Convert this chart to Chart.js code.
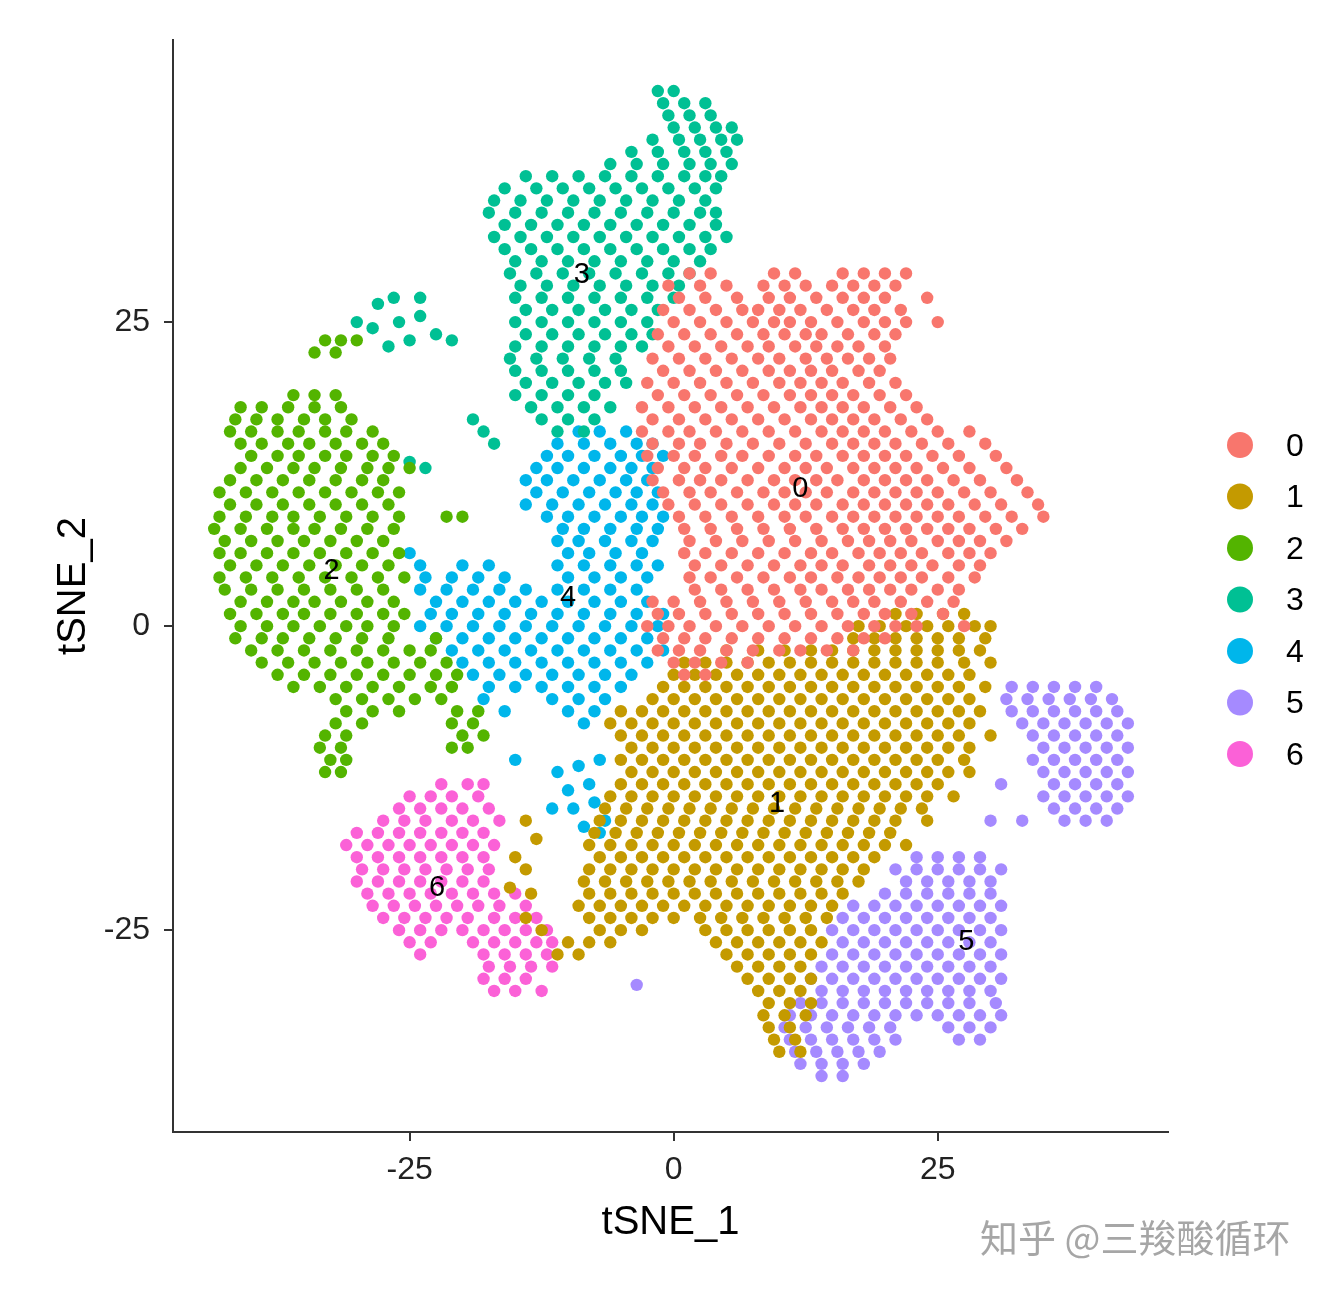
<!DOCTYPE html>
<html><head><meta charset="utf-8">
<script src="https://cdn.jsdelivr.net/npm/chart.js@4"></script>
<style>html,body{margin:0;padding:0;background:#fff;}canvas{display:block;}</style>
</head><body>
<canvas id="c" width="1344" height="1291"></canvas>
<script>
// Each row: [y, x1, x2, ...]
const cluster0 = [
[29,1.5,3.5,9.5,11.5,16,18,20,22],[28,-0.5,2.5,5,8.5,10.5,12.5,15,17,19,21],[27,0.5,3,6,9,11,13.5,16,18,20,24],
[26,-1,1.5,4,6.5,8,10,12,14.5,17,19,21.5],[25,0,2.5,5,7.5,9.5,11,13,15.5,18,20,22,25],[24,-1.5,1,3.5,6,8.5,10.5,12.5,14,16.5,19,21],
[23,-0.5,2,4.5,7,9,11.5,13.5,15.5,17.5,20],[22,-2,0.5,3,5.5,8,10,12.5,14.5,16.5,18.5,20.5],[21,-1,1.5,4,6.5,9,11,13,15,17.5,19.5],
[20,-2.5,0,2.5,5,7.5,10,12,14,16,18.5,21],[19,-1.5,1,3.5,6,8.5,11,13,15,17,19.5,22],[18,-3,-0.5,2,4.5,7,9.5,12,14,16,18,20.5,23],
[17,-2,0.5,3,5.5,8,10.5,13,15,17,19,21.5,24],[16,-3,-0.5,1.5,4,6.5,9,11.5,14,16,18,20,22.5,25,28],
[15,-2,0.5,2.5,5,7.5,10,12.5,15,17,19,21,23.5,26,29.5],[14,-2.5,0,2,4.5,6.5,9,11.5,13.5,16,18,20,22,24.5,27,30.5],
[13,-1.5,1,3,5.5,8,10.5,12.5,14.5,17,19,21,23,25.5,28,31.5],[12,-2,0.5,2.5,4.5,7,9.5,11.5,13.5,15.5,18,20,22,24,26.5,29,32.5],
[11,-1,1.5,3.5,6,8.5,10.5,12.5,14.5,17,19,21,23,25,27.5,30,33.5],[10,-0.5,2,4.5,7,9.5,11.5,13.5,16,18,20,22,24,26,28.5,31,34.5],
[9,0.5,3,5.5,8,10.5,12.5,15,17,19,21,23,25,27,29.5,32,35],[8,1,3.5,6,8.5,11,13.5,16,18,20,22,24,26,28,30.5,33],
[7,1.5,4,6.5,9,11.5,14,16.5,18.5,20.5,22.5,25,27,29,31.5],[6,1,3,5.5,8,10.5,13,15,17.5,19.5,21.5,23.5,26,28,30],
[5,2,4.5,7,9.5,12,14,16,18.5,20.5,22.5,24.5,27,29],[4,1.5,3.5,6,8.5,11,13,15.5,17.5,19.5,21.5,23.5,26,28.5],
[3,2,4.5,7,9.5,12,14,16.5,18.5,20.5,22.5,25,27],[2,-2,0,2.5,5,7.5,10,12.5,15,17,19,21.5,24,26.5],
[1,-1.5,0.5,3,5.5,8,10.5,13,15.5,18,20,22.5,25.5],[0,-2.5,-0.5,1.5,4,6.5,9,11.5,14,16.5,19,21,23,27.5],
[-1,-1,1,3,5.5,8,10.5,13,15.5,18,20],[-2,-1.5,0.5,2.5,5,7.5,10,12,14.5,17],[-3,0,2,4.5,7],[-4,1,3]
];
const cluster1 = [
[1,21,23,25.5,27.5],[0,17.5,19.5,22,24,26,28.5,30],[-1,17,19,21,23,25,27,29.5],
[-2,5,8,10.5,13,15,17,19,21,23,25,27,29],[-3,1,3,5,7,9,11,13,15,17,19,21,23,25,27.5,30],
[-4,0,2,4,6,8,10,12,14,16,18,20,22,24,26,28],[-5,-1,1,3,5,7,9,11,13,15,17,19,21,23,25,27,29.5],
[-6,-2,0,2,4,6,8,10,12,14,16,18,20,22,24,26,28],[-7,-5,-3,-1,1,3,5,7,9,11,13,15,17,19,21,23,25,27,29],
[-8,-6,-4,-2,0,2,4,6,8,10,12,14,16,18,20,22,24,26,28],[-9,-5,-3,-1,1,3,5,7,9,11,13,15,17,19,21,23,25,27,30],
[-10,-4,-2,0,2,4,6,8,10,12,14,16,18,20,22,24,26,28],[-11,-5,-3,-1,1,3,5,7,9,11,13,15,17,19,21,23,25,27.5],
[-12,-4,-2,0,2,4,6,8,10,12,14,16,18,20,22,24,26,28],[-13,-5,-3,-1,1,3,5,7,9,11,13,15,17,19,21,23,25],
[-14,-6,-4,-2,0,2,4,6,8,10,12,14,16,18,20,22,24,26.5],[-15,-6.5,-4.5,-2.5,-0.5,1.5,3.5,5.5,7.5,9.5,11.5,13.5,15.5,17.5,19.5,21.5,23.5],
[-16,-7,-5,-3,-1,1,3,5,7,9,11,13,15,17,19,21,24],[-17,-7.5,-5.5,-3.5,-1.5,0.5,2.5,4.5,6.5,8.5,10.5,12.5,14.5,16.5,18.5,20.5],
[-18,-8,-6,-4,-2,0,2,4,6,8,10,12,14,16,18,20,22],[-19,-7,-5,-3,-1,1,3,5,7,9,11,13,15,17,19],
[-20,-8,-6,-4,-2,0,2,4,6,8,10,12,14,16,18],[-21,-8.5,-6.5,-4.5,-2.5,-0.5,1.5,3.5,5.5,7.5,9.5,11.5,13.5,15.5,17.5],
[-22,-8,-6,-4,-2,0,2,4,6,8,10,12,14,16],[-23,-9,-7,-5,-3,-1,1,3,5,7,9,11,13,15],
[-24,-8,-6,-4,-2,0,2.5,4.5,6.5,8.5,10.5,12.5,14.5],[-25,-7,-5,-3,3,5,7,9,11,13],[-26,-10,-8,-6,4,6,8,10,12,14],
[-27,-11,-9,5,7,9,11,13],[-28,6,8,10,12],[-29,7,9,11,13],[-30,8,10,12],[-31,9,11,13],[-32,8.5,10.5,12.5],
[-33,9,11],[-34,9.5,11.5],[-35,10,12],
[-16,-14],[-17.5,-13],[-19,-15],[-20,-14],[-21.5,-15.5],[-22,-13.5],[-24,-14],[-25,-12.5]
];
const cluster2 = [
[23.5,-33,-31.5,-30],[22.5,-34,-32],[19,-36,-34,-32],[18,-41,-39,-36.5,-34,-31.5],[17,-41.5,-39.5,-37.5,-35,-33,-30.5],
[16,-42,-40,-37.5,-35.5,-33,-31,-28.5],[15,-41,-39,-36.5,-34.5,-32,-29.5,-27.5],[14,-40,-37.5,-35.5,-33,-31,-28.5,-26.5],
[13,-41,-38.5,-36,-34,-31.5,-29,-27,-25],[12,-42,-39.5,-37,-34.5,-32,-29.5,-27.5],[11,-43,-40.5,-38,-35.5,-33,-30.5,-28,-26],
[10,-42,-39.5,-37,-34.5,-32,-29.5,-27],[9,-43,-40.5,-38,-36,-33.5,-31,-28.5,-26,-21.5,-20],[8,-43.5,-41,-38.5,-36,-34,-31.5,-29,-26.5],
[7,-42.5,-40,-37.5,-35,-32.5,-30,-27.5],[6,-43,-41,-38.5,-36,-33.5,-31,-28.5,-26],[5,-42,-39.5,-37,-34.5,-32,-29.5,-27],
[4,-43,-40.5,-38,-35.5,-33,-30.5,-28,-25.5],[3,-42.5,-40,-37.5,-35,-32.5,-30,-27.5],[2,-41,-38.5,-36,-34,-31.5,-29,-26.5],
[1,-42,-39.5,-37,-35,-32.5,-30,-27.5,-25.5],[0,-41,-38.5,-36,-33.5,-31,-29,-26.5],[-1,-41.5,-39,-37,-34.5,-32,-29.5,-27,-22.5],
[-2,-40,-37.5,-35,-32.5,-30,-27.5,-25,-23],[-3,-39,-36.5,-34,-31.5,-29,-26.5,-24,-21.5],[-4,-37.5,-35,-32.5,-30,-27.5,-25,-22.5,-20.5],
[-5,-36,-33.5,-31,-28.5,-26,-23,-21],[-6,-32,-29.5,-27,-24.5,-22],[-7,-31,-28.5,-26,-20.5,-18.5],[-8,-32,-29.5,-21,-19],
[-9,-33,-31,-20,-18],[-10,-33.5,-31.5,-21,-19.5],[-11,-32.5,-31],[-12,-33,-31.5]
];
const cluster3 = [
[44,-1.5,0],[43,-1,1,3],[42,-0.5,1.5,3.5],[41,0,2,4,5.5],[40,-2,0.5,2.5,4.5,6],[39,-4,-1.5,1,3,5],[38,-6,-3.5,-1,1.5,3.5,5.5],
[37,-14,-11.5,-9,-6.5,-4,-1.5,1,3,4.5],[36,-16,-13,-10.5,-8,-5.5,-3,-0.5,2,4],[35,-17,-14.5,-12,-9.5,-7,-4.5,-2,0.5,3],
[34,-17.5,-15,-12.5,-10,-7.5,-5,-2.5,0,2.5,4],[33,-16,-13.5,-11,-8.5,-6,-3.5,-1,1.5,4],[32,-17,-14.5,-12,-9.5,-7,-4.5,-2,0.5,3,5],
[31,-16,-13.5,-11,-8.5,-6,-3.5,-1,1.5,3.5],[30,-15,-12.5,-10,-7.5,-5,-2.5,0,2.5],[29,-15.5,-13,-10.5,-8,-5.5,-3,-0.5,1.5],
[28,-14.5,-12,-9.5,-7,-4.5,-2,0.5],[27,-15,-12.5,-10,-7.5,-5,-2.5,0],[26,-14,-11.5,-9,-6.5,-4,-1.5],[25,-15,-12.5,-10,-7.5,-5,-2.5],
[24,-14,-11.5,-9,-6.5,-4,-2],[23,-15,-12.5,-10,-7.5,-5,-3],[22,-15.5,-13,-10.5,-8,-5.5],[21,-15,-12.5,-10,-7.5,-5],
[20,-14,-11.5,-9,-6.5,-4.5],[19,-15,-12.5,-10,-7.5],[18,-13.5,-11,-8.5,-6],[17,-12.5,-10,-7.5],[16,-11,-8.5],
[27,-26.5,-24],[26.5,-28],[25.5,-24],[25,-30,-26],[24.5,-28.5],[24,-22.5],[23.5,-25,-21],[23,-27],
[17,-19],[16,-18],[15,-17],[13.5,-25],[13,-23.5]
];
const cluster4 = [
[16,-9,-7,-4.5],[15,-11,-8.5,-6,-3.5,-2],[14,-12,-10,-7.5,-5,-3,-1],[13,-13,-11,-8.5,-6,-4,-2],[12,-14,-12,-9.5,-7,-4.5,-2.5],
[11,-13,-10.5,-8,-5.5,-3.5,-1.5],[10,-14,-11.5,-9,-6.5,-4,-2],[9,-12,-10,-7.5,-5,-3,-1],[8,-10.5,-8.5,-6,-3.5,-1.5],
[7,-11,-9,-6.5,-4,-2],[6,-25,-10,-8,-5.5,-3],[5,-24,-20,-17.5,-11,-8.5,-6,-3.5,-1.5],[4,-23.5,-21,-18.5,-16,-10,-7.5,-5,-2.5],
[3,-24,-21.5,-19,-16.5,-14,-11,-8.5,-6,-3.5],[2,-22.5,-20,-17.5,-15,-12.5,-10,-7.5,-5,-2.5],
[1,-23,-21,-18.5,-16,-13.5,-11,-8.5,-6,-3.5,-1],[0,-24,-21.5,-19,-16.5,-14,-11.5,-9,-6.5,-4,-1.5],
[-1,-22.5,-20,-17.5,-15,-12.5,-10,-7.5,-5,-2.5],[-2,-21,-18.5,-16,-13.5,-11,-8.5,-6,-3.5,-1],
[-3,-20,-17.5,-15,-12.5,-10,-7.5,-5,-2.5],[-4,-19,-16.5,-14,-11.5,-9,-6.5,-4],[-5,-17.5,-15,-12.5,-10,-7.5,-5],
[-6,-18,-11.5,-9,-6.5],[-7,-16,-10,-7.5],[-8,-8.5],
[-11,-15,-7],[-11.5,-9],[-12,-11],[-13,-8],[-13.5,-10],[-14.5,-7.5],[-15,-11.5,-9.5],[-16,-6.5],[-16.5,-8.5],[-17,-7]
];
const cluster5 = [
[-19,23,25,27,29],[-20,21,23,25,27,29,31],[-21,22,24,26,28,30],[-22,20,22,24,26,28,30],[-23,17,19,21,23,25,27,29,31],
[-24,16,18,20,22,24,26,28,30],[-25,15,17,19,21,23,25,27,29,31],[-26,16,18,20,22,24,26,28,30],[-27,15,17,19,21,23,25,27,29,31],
[-28,14,16,18,20,22,24,26,28,30],[-29,13,15,17,19,21,23,25,27,29,31],[-30,14,16,18,20,22,24,26,28,30],
[-31,12,14,16,18,20,22,24,26,28,30.5],[-32,11,13,15,17,19,21,23,25,27,29,31],[-33,10.5,12.5,14.5,16.5,18.5,20.5,26,28,30],
[-34,11,13,15,17,19,21,27,29],[-35,11.5,13.5,15.5,17.5,19.5],[-36,12,14,16,18],[-37,14,16],
[-5,32,34,36,38,40],[-6,31.5,33.5,35.5,37.5,39.5,41.5],[-7,32,34,36,38,40,42],[-8,33,35,37,39,41,43],[-9,34,36,38,40,42],
[-10,35,37,39,41,43],[-11,34,36,38,40,42],[-12,35,37,39,41,43],[-13,31,36,38,40,42],[-14,35,37,39,41,43],
[-15,36,38,40,42],[-16,30,33,37,39,41],[-29.5,-3.5]
];
const cluster6 = [
[-13,-22,-19.5,-18],[-14,-25,-23,-21,-18.5],[-15,-26,-24,-22,-20,-17.5],[-16,-27.5,-25.5,-23.5,-21,-19,-16.5],
[-17,-30,-28,-26,-24,-22,-20,-18],[-18,-31,-29,-27,-25,-23,-21,-19,-17],[-19,-30,-28,-26,-24,-22,-20,-18],
[-20,-29.5,-27.5,-25.5,-23.5,-21.5,-19.5,-17.5],[-21,-30,-28,-26,-24,-22,-20,-18],[-22,-29,-27,-25,-23,-21,-19,-17,-15],
[-23,-28.5,-26.5,-24.5,-22.5,-20.5,-18.5,-16.5,-14],[-24,-27.5,-25.5,-23.5,-21.5,-19.5,-17,-15,-13],
[-25,-26,-24,-22,-20,-18,-16,-14,-12],[-26,-25,-23,-19,-17,-15,-13,-11.5],[-27,-24,-18,-16,-14,-12],
[-28,-17.5,-15.5,-13.5,-11.5],[-29,-18,-16,-14],[-30,-17,-15,-12.5]
];
const clusterNames = ['0','1','2','3','4','5','6'];
const clusterColors = ['#F8766D','#C49A00','#53B400','#00C094','#00B6EB','#A58AFF','#FB61D7'];
const clusterLabelPos = [[12,11.3],[9.8,-14.6],[-32.4,4.5],[-8.7,28.9],[-10,2.3],[27.7,-26],[-22.4,-21.5]];
const xTicks = [-25,0,25];
const yTicks = [-25,0,25];

const allClusters = [cluster0,cluster1,cluster2,cluster3,cluster4,cluster5,cluster6];
const toPts = rows => rows.flatMap(r => r.slice(1).map(x => ({x:x, y:r[0]})));
const FONT = "'Liberation Sans', Arial, sans-serif";

const overlay = {
  id:'overlay',
  afterDatasetsDraw(chart){
    const {ctx, scales:{x,y}} = chart;
    ctx.save();
    ctx.fillStyle='#000'; ctx.font='29px '+FONT; ctx.textAlign='center'; ctx.textBaseline='middle';
    clusterLabelPos.forEach((p,i)=>ctx.fillText(clusterNames[i], x.getPixelForValue(p[0]), y.getPixelForValue(p[1])));
    clusterNames.forEach((n,i)=>{
      const cy = 445 + i*51.5;
      ctx.fillStyle=clusterColors[i]; ctx.beginPath(); ctx.arc(1240,cy,13,0,Math.PI*2); ctx.fill();
      ctx.fillStyle='#000'; ctx.font='32px '+FONT; ctx.textAlign='left'; ctx.fillText(n,1286,cy+2);
    });
    ctx.font="38px 'Noto Sans CJK SC', sans-serif"; ctx.textAlign='left';
    ctx.fillStyle='rgba(150,150,150,0.85)';
    ctx.fillText('知乎 @三羧酸循环', 980, 1238);
    ctx.restore();
  }
};

new Chart(document.getElementById('c'), {
  type:'scatter',
  data:{datasets: allClusters.map((c,i)=>({label:clusterNames[i], data:toPts(c), backgroundColor:clusterColors[i], borderWidth:0, pointRadius:6.2, pointHoverRadius:6.2}))},
  options:{
    responsive:false, animation:false, devicePixelRatio:1,
    layout:{padding:{top:40,right:176,left:0,bottom:0}},
    plugins:{legend:{display:false}, tooltip:{enabled:false}},
    scales:{
      x:{type:'linear', min:-47.4, max:46.8,
        afterBuildTicks: s => { s.ticks = xTicks.map(v=>({value:v})); },
        afterFit: s => { s.height = 159; },
        grid:{drawOnChartArea:false, drawTicks:true, tickLength:9, color:'#333', lineWidth:2},
        border:{display:true, color:'#333', width:2},
        ticks:{color:'#222', font:{size:32, family:FONT}, padding:10},
        title:{display:true, text:'tSNE_1', color:'#000', font:{size:40, family:FONT}, padding:{top:0,bottom:44}}
      },
      y:{type:'linear', min:-41.6, max:48.2,
        afterBuildTicks: s => { s.ticks = yTicks.map(v=>({value:v})); },
        afterFit: s => { s.width = 173; },
        grid:{drawOnChartArea:false, drawTicks:true, tickLength:9, color:'#333', lineWidth:2},
        border:{display:true, color:'#333', width:2},
        ticks:{color:'#222', font:{size:32, family:FONT}, padding:14},
        title:{display:true, text:'tSNE_2', color:'#000', font:{size:40, family:FONT}, padding:{top:50,bottom:0}}
      }
    }
  },
  plugins:[overlay]
});
</script>
</body></html>
